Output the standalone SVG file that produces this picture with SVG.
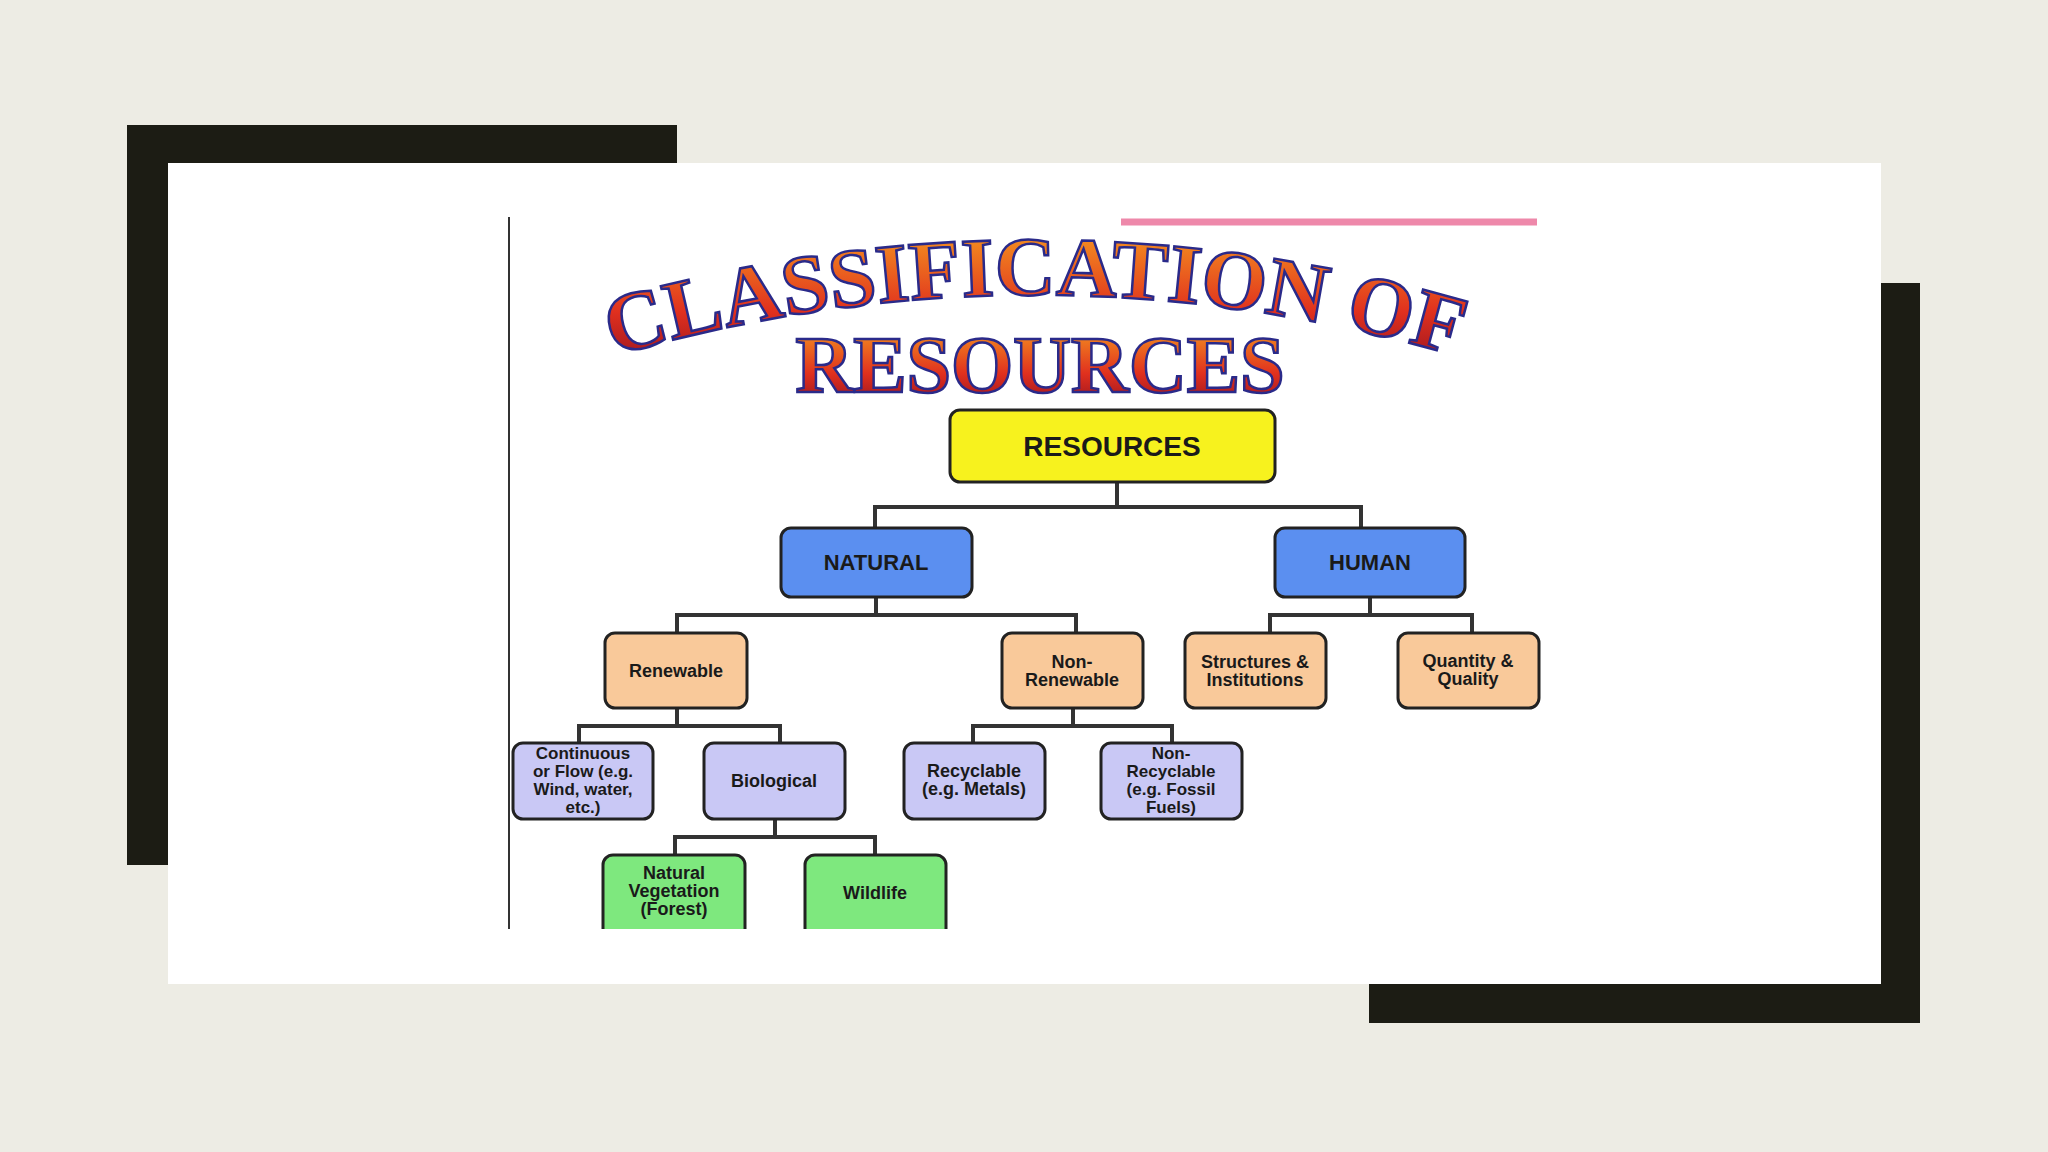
<svg xmlns="http://www.w3.org/2000/svg" width="2048" height="1152" viewBox="0 0 2048 1152">
<defs>
<style>
.b{stroke:#222;stroke-width:3}
.y{fill:#f7f21e}.bl{fill:#5b8ff0}.pe{fill:#f9c99a}.lv{fill:#c9c8f5}.gr{fill:#7ee87e}
.t{font-family:"Liberation Sans",Arial,sans-serif;font-weight:bold;fill:#1a1a1a;text-anchor:middle}
.c{fill:none;stroke:#333;stroke-width:4}
.ti{font-family:"Liberation Serif","Times New Roman",serif;font-weight:bold;stroke:#2a2a8a;stroke-width:2.5;text-anchor:middle}
</style>
<linearGradient id="tg" x1="0" y1="0" x2="0" y2="1"><stop offset="0" stop-color="#f7a020"/><stop offset="0.6" stop-color="#e0301e"/><stop offset="1" stop-color="#901020"/></linearGradient>
<path id="arc" d="M600,360 Q1035,230 1470,360"/>
<clipPath id="cp"><rect x="509" y="160" width="1100" height="769"/></clipPath>
</defs>
<rect width="2048" height="1152" fill="#edece4"/>
<rect x="127" y="125" width="550" height="740" fill="#1c1c14"/>
<rect x="1369" y="283" width="551" height="740" fill="#1c1c14"/>
<rect x="168" y="163" width="1713" height="821" fill="#fff"/>
<line x1="509" y1="217" x2="509" y2="929" stroke="#333" stroke-width="2"/>
<line x1="1121" y1="222" x2="1537" y2="222" stroke="#ee88aa" stroke-width="7"/>
<text class="ti" font-size="84" style="fill:url(#tg)"><textPath href="#arc" startOffset="50%">CLASSIFICATION OF</textPath></text>
<text class="ti" x="1040" y="392" font-size="80" style="fill:url(#tg)">RESOURCES</text>
<g id="connectors" class="c">
<path d="M1117,482V507M875,527V507H1361V527"/>
<path d="M876,597V615M677,633V615H1076V633"/>
<path d="M1370,597V615M1270,633V615H1472V633"/>
<path d="M677,708V726M579,743V726H780V743"/>
<path d="M1073,708V726M973,743V726H1172V743"/>
<path d="M775,819V837M675,855V837H875V855"/>
</g>
<g id="n-resources"><rect class="b y" x="950" y="410" width="325" height="72" rx="10"/><text class="t" x="1112" y="456" font-size="28">RESOURCES</text></g>
<g id="n-natural"><rect class="b bl" x="781" y="528" width="191" height="69" rx="10"/><text class="t" x="876" y="570" font-size="22">NATURAL</text></g>
<g id="n-human"><rect class="b bl" x="1275" y="528" width="190" height="69" rx="10"/><text class="t" x="1370" y="570" font-size="22">HUMAN</text></g>
<g id="n-renewable"><rect class="b pe" x="605" y="633" width="142" height="75" rx="10"/><text class="t" x="676" y="677" font-size="18">Renewable</text></g>
<g id="n-nonrenewable"><rect class="b pe" x="1002" y="633" width="141" height="75" rx="10"/><text class="t" x="1072" y="668" font-size="18">Non-</text><text class="t" x="1072" y="686" font-size="18">Renewable</text></g>
<g id="n-structures"><rect class="b pe" x="1185" y="633" width="141" height="75" rx="10"/><text class="t" x="1255" y="668" font-size="18">Structures &amp;</text><text class="t" x="1255" y="686" font-size="18">Institutions</text></g>
<g id="n-quantity"><rect class="b pe" x="1398" y="633" width="141" height="75" rx="10"/><text class="t" x="1468" y="667" font-size="18">Quantity &amp;</text><text class="t" x="1468" y="685" font-size="18">Quality</text></g>
<g id="n-continuous"><rect class="b lv" x="513" y="743" width="140" height="76" rx="10"/><text class="t" font-size="17" x="583"><tspan x="583" y="759">Continuous</tspan><tspan x="583" y="777">or Flow (e.g.</tspan><tspan x="583" y="795">Wind, water,</tspan><tspan x="583" y="813">etc.)</tspan></text></g>
<g id="n-biological"><rect class="b lv" x="704" y="743" width="141" height="76" rx="10"/><text class="t" x="774" y="787" font-size="18">Biological</text></g>
<g id="n-recyclable"><rect class="b lv" x="904" y="743" width="141" height="76" rx="10"/><text class="t" x="974" y="777" font-size="18">Recyclable</text><text class="t" x="974" y="795" font-size="18">(e.g. Metals)</text></g>
<g id="n-nonrecyclable"><rect class="b lv" x="1101" y="743" width="141" height="76" rx="10"/><text class="t" font-size="17"><tspan x="1171" y="759">Non-</tspan><tspan x="1171" y="777">Recyclable</tspan><tspan x="1171" y="795">(e.g. Fossil</tspan><tspan x="1171" y="813">Fuels)</tspan></text></g>
<g clip-path="url(#cp)">
<g id="n-vegetation"><rect class="b gr" x="603" y="855" width="142" height="90" rx="10"/><text class="t" font-size="18"><tspan x="674" y="879">Natural</tspan><tspan x="674" y="897">Vegetation</tspan><tspan x="674" y="915">(Forest)</tspan></text></g>
<g id="n-wildlife"><rect class="b gr" x="805" y="855" width="141" height="90" rx="10"/><text class="t" x="875" y="899" font-size="18">Wildlife</text></g>
</g>
</svg>
